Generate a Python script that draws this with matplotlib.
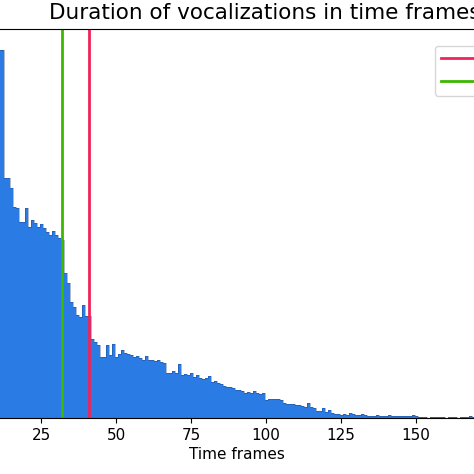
import matplotlib
matplotlib.use("Agg")
import matplotlib.pyplot as plt

bins = list(range(11, 170))
heights = [368, 368, 240, 240, 230, 211, 210, 196, 196, 210, 191, 198, 195, 191, 194, 190, 186, 183, 187, 183, 180,
           178, 145, 135, 116, 111, 103, 101, 113, 102, 102, 79, 76, 73, 61, 61, 73, 63, 74, 61, 64, 68, 65, 64, 63,
           61, 62, 60, 58, 62, 58, 58, 57, 58, 56, 55, 45, 45, 47, 45, 54, 43, 44, 43, 45, 41, 43, 40, 39, 40, 42,
           36, 37, 35, 34, 32, 31, 31, 30, 28, 28, 27, 25, 26, 25, 27, 25, 24, 25, 18, 19, 19, 19, 19, 18, 15, 14,
           14, 14, 13, 13, 12, 11, 15, 11, 10, 7, 7, 10, 6, 8, 5, 4, 4, 3, 4, 3, 5, 4, 3, 3, 4, 3, 2, 2, 2, 3, 2,
           2, 2, 3, 2, 2, 2, 2, 2, 2, 2, 3, 2, 1, 1, 1, 0, 1, 1, 1, 1, 1, 0, 1, 1, 1, 0, 1, 1, 1, 2, 1]
mean_val = 41
median_val = 32
legend_labels = ["Mean", "Median"]
xticks = [25, 50, 75, 100, 125, 150]

fig = plt.figure(figsize=(4.74, 4.74), dpi=100)
ax = fig.add_axes([0.0, 0.118, 1.0, 0.821])
ax.bar(bins, heights, width=1, align="center", color="#2a7be3", edgecolor="none")
ax.step(bins, heights, where="mid", color="#1a3a70", lw=0.5, alpha=0.5)
l1 = ax.axvline(mean_val, color="#f0245a", lw=2)
l2 = ax.axvline(median_val, color="#3cb800", lw=2)
ax.set_xlim(11.3, 169.3)
ax.set_ylim(0, 389)
ax.set_yticks([])
ax.set_xticks(xticks)
ax.tick_params(axis="x", labelsize=11)
ax.set_xlabel("Time frames", fontsize=11, labelpad=3)
for s in ["left", "right"]:
    ax.spines[s].set_visible(False)
fig.text(49 / 474, 1 - 3 / 474, "Duration of vocalizations in time frames", fontsize=15.5,
         ha="left", va="top")
fig.legend([l1, l2], legend_labels, loc="upper left", bbox_to_anchor=(427 / 474, 1 - 38 / 474),
           fontsize=11, handlelength=2.2)
fig.savefig("out.png", dpi=100)
